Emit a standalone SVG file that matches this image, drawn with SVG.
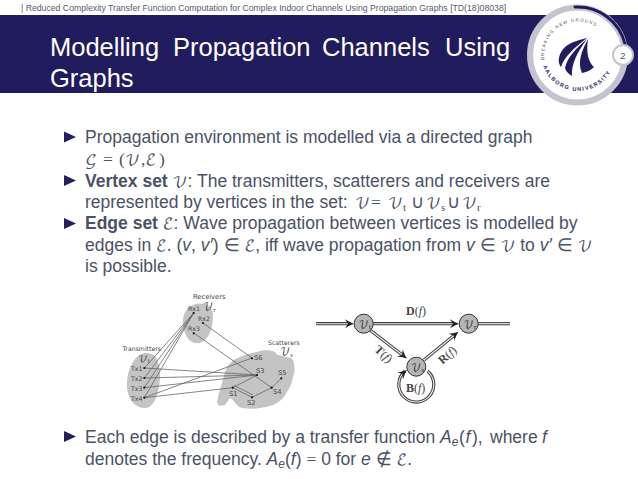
<svg xmlns="http://www.w3.org/2000/svg" width="638" height="479" viewBox="0 0 638 479">
<style>
text{font-family:"Liberation Sans",Arial,sans-serif;}
.b{font-size:17.5px;fill:#4a5266;}
.st{font-weight:bold;}
.m{font-style:italic;}
.c{font-family:"DejaVu Math TeX Gyre","DejaVu Serif",serif;font-style:normal;font-size:15.5px;}
.r{font-family:"Liberation Serif",serif;font-style:normal;}
.t{font-size:25.5px;fill:#fff;}
.l text{font-family:"DejaVu Sans",sans-serif;font-size:6.7px;fill:#444;}
.l text.c{font-family:"DejaVu Math TeX Gyre","DejaVu Serif",serif;}
.l text.s{font-size:6.2px;}
.ln{stroke:#666;stroke-width:.8;fill:none;}
.dot{fill:#111;}
.blob{fill:#c4c4c4;}
.e{fill:none;stroke:#444;stroke-width:3.2;}
.ei{fill:none;stroke:#eee;stroke-width:1.1;}
.n{fill:#b5b5b5;stroke:#333;stroke-width:1;}
.nl{font-size:11px;fill:#333;}
.el text{font-family:"Liberation Serif",serif;font-size:12px;fill:#444;}
.ah{fill:#222;}
.w{fill:#211c5e;}
</style>
<defs>
<polygon id="bul" points="0,0 12,5.5 0,11" fill="#23205f"/>
<path id="ah" d="M-9,-4.5 Q-4,-1.2 0,0 Q-4,1.2 -9,4.5 L-6,0Z" class="ah"/>
<path id="arcT" d="M544.4,60 A34,34 0 0 1 606,36"/>
<path id="arcB" d="M543,66 A37,37 0 0 0 613,66"/>
</defs>
<rect width="638" height="479" fill="#fff"/>
<text x="21" y="11" style="font-size:8.7px;fill:#555a70">| Reduced Complexity Transfer Function Computation for Complex Indoor Channels Using Propagation Graphs [TD(18)08038]</text>
<rect x="0" y="15" width="638" height="78" fill="#211c5e"/>
<g id="title" class="t">
<text x="50" y="56">Modelling</text><text x="173" y="56">Propagation</text><text x="322" y="56">Channels</text><text x="445" y="56">Using</text>
<text x="50" y="87">Graphs</text>
</g>
<g id="logo">
<circle cx="577.5" cy="55" r="47.5" fill="#fff" stroke="#c4c4ce" stroke-width="6"/>
<path d="M575,7 A48.5,48.5 0 0 1 625,44" fill="none" stroke="#211c5e" stroke-width="3" stroke-linecap="round"/>
<path class="w" d="M587,38 C575,41 562,44 559,58 C558,62 560,66 561,67 C564,57 575,47 587,38Z"/>
<path class="w" d="M587,39 C576,48 567,58 565,68 C566,72 569,74 572,76 C571,64 578,51 587,39Z"/>
<path class="w" d="M588,39 C582,50 577,62 582,73 C586,72 590,71 594,67 C588,62 586,52 588,39Z"/>
<text style="font-size:4.5px;letter-spacing:1.1px;fill:#555"><textPath href="#arcT">BREAKING NEW GROUND</textPath></text>
<text style="font-size:5.5px;font-weight:bold;letter-spacing:1.3px;fill:#211c5e"><textPath href="#arcB">AALBORG UNIVERSITY</textPath></text>
<circle cx="623" cy="55" r="10" fill="#fff" stroke="#c4c4ce" stroke-width="2"/>
<text x="623" y="58.5" text-anchor="middle" style="font-size:9.5px;fill:#555">2</text>
</g>
<g id="bullets">
<use href="#bul" x="64" y="131.5"/><use href="#bul" x="64" y="175"/><use href="#bul" x="64" y="218"/><use href="#bul" x="64" y="431"/>
<text class="b" x="85" y="143">Propagation environment is modelled via a directed graph</text>
<text class="b" x="85" y="165"><tspan class="c">𝒢</tspan><tspan class="r" x="103">=</tspan><tspan class="r" x="119">(</tspan><tspan class="c" x="125">𝒱</tspan><tspan class="r" x="141">,</tspan><tspan class="c" x="145.5">ℰ</tspan><tspan class="r" x="159">)</tspan></text>
<text class="b" x="85" y="187"><tspan class="st">Vertex set</tspan> <tspan class="c">𝒱</tspan>: The transmitters, scatterers and receivers are</text>
<text class="b" x="85" y="208">represented by vertices in the set: <tspan class="c" x="355">𝒱</tspan><tspan class="r" x="371">=</tspan><tspan class="c" x="388">𝒱</tspan><tspan class="r" font-size="11" dy="3">t</tspan><tspan class="r" dy="-3" x="411">∪</tspan><tspan class="c" x="426">𝒱</tspan><tspan class="r" font-size="11" dy="3">s</tspan><tspan class="r" dy="-3" x="447">∪</tspan><tspan class="c" x="462">𝒱</tspan><tspan class="r" font-size="11" dy="3">r</tspan></text>
<text class="b" x="85" y="229"><tspan class="st">Edge set</tspan> <tspan class="c">ℰ</tspan>: Wave propagation between vertices is modelled by</text>
<text class="b" x="85" y="251">edges in <tspan class="c">ℰ</tspan>. (<tspan class="m">v</tspan>, <tspan class="m">v′</tspan>) <tspan class="r">∈</tspan> <tspan class="c">ℰ</tspan>, iff wave propagation from <tspan class="m">v</tspan> <tspan class="r">∈</tspan> <tspan class="c">𝒱</tspan> to <tspan class="m">v′</tspan> <tspan class="r">∈</tspan> <tspan class="c">𝒱</tspan></text>
<text class="b" x="85" y="272">is possible.</text>
<text class="b" x="85" y="443">Each edge is described by a transfer function <tspan class="m" x="440">A</tspan><tspan class="m" font-size="12" dy="3">e</tspan><tspan dy="-3" x="459">(</tspan><tspan class="m" x="465.5">f</tspan><tspan x="472">),</tspan> <tspan x="490">where</tspan> <tspan class="m" x="542">f</tspan></text>
<text class="b" x="85" y="465">denotes the frequency. <tspan class="m">A</tspan><tspan class="m" font-size="12" dy="3">e</tspan><tspan dy="-3">(</tspan><tspan class="m">f</tspan>) <tspan class="r">=</tspan> 0 for <tspan class="m">e</tspan> <tspan class="r">∉</tspan> <tspan class="c">ℰ</tspan>.</text>
</g>
<g id="scene">
<path class="blob" d="M183,325 C182,314 187,306 196,304 C206,302 213,306 213,316 C213,330 208,340 200,343 C191,345 185,338 183,325Z"/>
<path class="blob" d="M127,382 C128,366 136,354 145,353 C156,352 160,362 160,375 C160,390 155,408 145,408 C134,408 126,398 127,382Z"/>
<path class="blob" d="M217,402 C218,395 220,390 222,383 C224,376 225,372 227,367 C231,361 235,359 240,357 C246,354 251,353 257,352 C262,350 268,350 273,351 C276,352 276,354 278,355 C281,355 283,356 285,357 C290,357 292,358 293,360 C295,366 295,372 293,377 C292,382 291,386 288,390 C285,396 282,400 277,403 C272,406 266,407 260,408 C254,409 248,409 243,408 C240,408 239,407 237,405 C234,402 232,398 230,398 C228,400 227,403 225,405 C222,406 219,406 218,405Z"/>
<g class="ln">
<path d="M144.3,368L193.7,313M144.3,378L193.7,313M144.3,387.7L193.7,313M144.3,397.7L193.7,313"/>
<path d="M203,323L252,358M193.7,333L271.7,387.7"/>
<path d="M144.3,368L257,375M144.3,378L257,375M144.3,387.7L257,375M144.3,397.7L232.7,387.7M144.3,397.7L252,358"/>
<path d="M257,375L232.7,387.7M232.7,387.7L252,397.3M234,385.5L253,395M252,397.3L271.7,387.7M271.7,387.7L281.3,378.3"/>
</g>
<g class="dot">
<circle cx="193.7" cy="313" r="1.1"/><circle cx="203" cy="323" r="1.1"/><circle cx="193.7" cy="333.3" r="1.1"/>
<circle cx="144.3" cy="368" r="1.1"/><circle cx="144.3" cy="378" r="1.1"/><circle cx="144.3" cy="387.7" r="1.1"/><circle cx="144.3" cy="397.7" r="1.1"/>
<circle cx="252" cy="358.3" r="1.1"/><circle cx="257" cy="375" r="1.1"/><circle cx="281.3" cy="378.3" r="1.1"/><circle cx="271.7" cy="387.7" r="1.1"/><circle cx="232.7" cy="387.7" r="1.1"/><circle cx="252" cy="397.3" r="1.1"/>
</g>
<g class="l">
<text x="193" y="299">Receivers</text><text class="s" x="122.5" y="351">Transmitters</text><text class="s" x="268" y="345">Scatterers</text>
<text class="s" x="188" y="311">Rx1</text><text class="s" x="198" y="321">Rx2</text><text class="s" x="188" y="331">Rx3</text>
<text class="s" x="131" y="371">Tx1</text><text class="s" x="131" y="381">Tx2</text><text class="s" x="131" y="390.5">Tx3</text><text class="s" x="131" y="400.5">Tx4</text>
<text x="254" y="360">S6</text><text x="256" y="373">S3</text><text x="278" y="375">S5</text><text x="273" y="394">S4</text><text x="229" y="396">S1</text><text x="247" y="405">S2</text>
<text x="203" y="310" class="c" style="font-size:10.5px">𝒱<tspan font-size="5" dy="1.5">r</tspan></text>
<text x="138" y="361.5" class="c" style="font-size:10px">𝒱<tspan font-size="5" dy="1.5">t</tspan></text>
<text x="280" y="355" class="c" style="font-size:10.5px">𝒱<tspan font-size="5" dy="1.5">s</tspan></text>
</g>
</g>
<g id="connectors">
<g class="e"><path d="M316,323.7H350"/><path d="M373,323.7H454"/><path d="M478,323.7H510"/><path d="M370,330L403,355.5"/><path d="M424,360L454,335.5"/><path d="M427.5,371.1A17.5,17.5 0 1 1 405.05,371.1"/></g>
<g class="ei"><path d="M316,323.7H350"/><path d="M373,323.7H454"/><path d="M478,323.7H510"/><path d="M370,330L403,355.5"/><path d="M424,360L454,335.5"/><path d="M427.5,371.1A17.5,17.5 0 1 1 405.05,371.1"/></g>
<use href="#ah" transform="translate(354,323.7)"/><use href="#ah" transform="translate(459,323.7)"/><use href="#ah" transform="translate(407,358.5) rotate(38)"/><use href="#ah" transform="translate(458.5,331.7) rotate(-39)"/><use href="#ah" transform="translate(407,370) rotate(-40)"/>
</g>
<g id="node-vt"><circle class="n" cx="363.7" cy="323.7" r="9.5"/><text class="nl c" x="358.5" y="327.5" style="font-size:10.5px">𝒱<tspan font-size="6" dy="1.5">t</tspan></text></g>
<g id="node-vr"><circle class="n" cx="468.7" cy="323.7" r="9.5"/><text class="nl c" x="463.5" y="327.5" style="font-size:10.5px">𝒱<tspan font-size="6" dy="1.5">r</tspan></text></g>
<g id="node-vs"><circle class="n" cx="416.3" cy="366.7" r="9.5"/><text class="nl c" x="411" y="370.5" style="font-size:10.5px">𝒱<tspan font-size="6" dy="1.5">s</tspan></text></g>
<g id="edge-labels" class="el">
<text x="406" y="315"><tspan font-weight="bold">D</tspan>(<tspan font-style="italic">f</tspan>)</text>
<text x="406" y="392"><tspan font-weight="bold">B</tspan>(<tspan font-style="italic">f</tspan>)</text>
<text text-anchor="middle" transform="translate(381,357) rotate(42)"><tspan font-weight="bold">T</tspan>(<tspan font-style="italic">f</tspan>)</text>
<text text-anchor="middle" transform="translate(450,358) rotate(-42)"><tspan font-weight="bold">R</tspan>(<tspan font-style="italic">f</tspan>)</text>
</g>
</svg>
